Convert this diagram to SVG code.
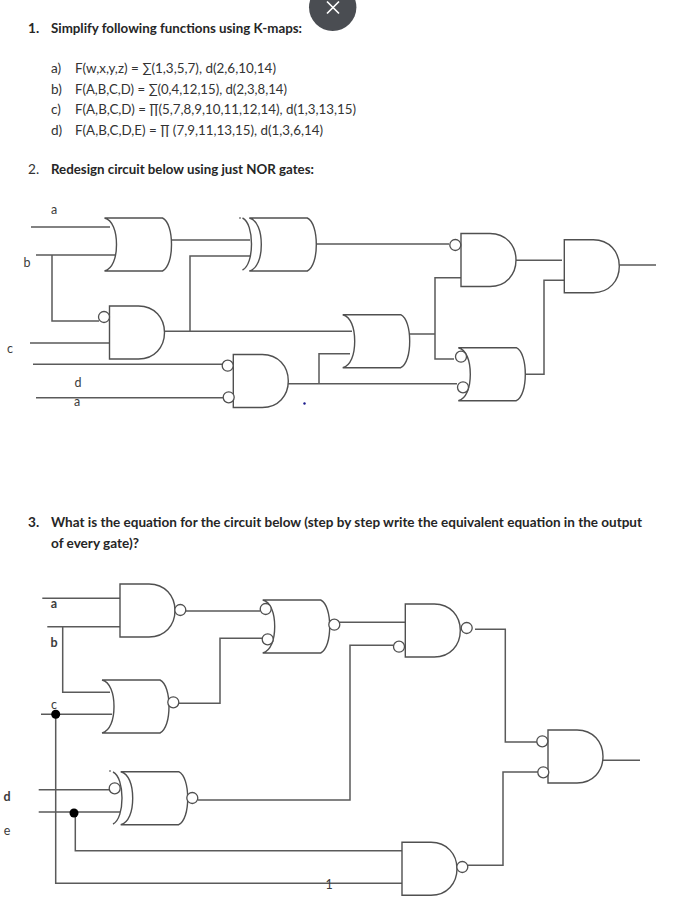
<svg xmlns="http://www.w3.org/2000/svg" width="686" height="923" viewBox="0 0 686 923">
<style>
text{font-family:Lato,"Liberation Sans","DejaVu Sans",sans-serif;font-size:13.6px;fill:#333}
.b{font-weight:700;fill:#262626}
.l{font-size:12.5px;fill:#3c3c3c}
.g{fill:#fff;stroke:#505050;stroke-width:1.4}
.arc{fill:none;stroke:#505050;stroke-width:1.4}
.w{fill:none;stroke:#5a5a5a;stroke-width:1.5}
.n{fill:#fff;stroke:#505050;stroke-width:1.3}
.j{fill:#000}
</style>
<defs>
<path id="and" class="g" d="M0 0H29C45 0 55 12 55 26.5S45 53 29 53H0Z"/>
<path id="or" class="g" d="M0 0H58C64 3 67 14 67 26.5S64 50 58 53H0C8 51 12 40 12 26.5S8 2 0 0Z"/>
<path id="xa" class="arc" d="M0 0C6 3 9 14 9 26S6 49 0 52"/>
</defs>
<rect width="686" height="923" fill="#fff"/>

<g id="close-button">
<circle cx="332.7" cy="7.3" r="23.7" fill="#4a4d52"/>
<path d="M327 1.5L339 13.500M339 1.500L327 13.500" stroke="#fff" stroke-width="1.7" fill="none"/>
</g>

<g id="question-text">
<text class="b" x="28" y="33">1.</text>
<text class="b" x="51" y="33" textLength="251" lengthAdjust="spacingAndGlyphs">Simplify following functions using K-maps:</text>
<text x="51" y="73">a)</text>
<text x="75" y="73" textLength="201" lengthAdjust="spacingAndGlyphs">F(w,x,y,z) = ∑(1,3,5,7), d(2,6,10,14)</text>
<text x="51" y="93.500">b)</text>
<text x="75" y="93.500" textLength="212" lengthAdjust="spacingAndGlyphs">F(A,B,C,D) = ∑(0,4,12,15), d(2,3,8,14)</text>
<text x="51" y="114">c)</text>
<text x="75" y="114" textLength="281" lengthAdjust="spacingAndGlyphs">F(A,B,C,D) = ∏(5,7,8,9,10,11,12,14), d(1,3,13,15)</text>
<text x="51" y="134.500">d)</text>
<text x="75" y="134.500" textLength="248" lengthAdjust="spacingAndGlyphs">F(A,B,C,D,E) = ∏ (7,9,11,13,15), d(1,3,6,14)</text>
<text x="28" y="174">2.</text>
<text class="b" x="51" y="174" textLength="263" lengthAdjust="spacingAndGlyphs">Redesign circuit below using just NOR gates:</text>
<text class="b" x="28" y="527">3.</text>
<text class="b" x="51" y="527" textLength="591" lengthAdjust="spacingAndGlyphs">What is the equation for the circuit below (step by step write the equivalent equation in the output</text>
<text class="b" x="51" y="548" textLength="88" lengthAdjust="spacingAndGlyphs">of every gate)?</text>
</g>

<g id="connectors">
<path class="w" d="M31 227H110M36 255H115M52 255V321H99M30 343H109M171 240H250M164 331.300H352M190 331.300V256H250"/>
<path class="w" d="M316 244H449M33 364.300H222M36 397.700H223M288 383.700H457M319 383.700V353.700H350"/>
<path class="w" d="M410 334H435M454 359H435V277.700H461M516 260.300H562M525 374.300H544V280.300H564M619 265H656"/>
<path class="w" d="M42.300 598.300H120M47.300 626.700H120M62.700 626.700V692.300H110M186 611H260M41 714.300H112M55.700 714.300V883.300H402"/>
<path class="w" d="M179 703.300H220V638.300H262M38.700 789.700H110M38.700 812H120M75.300 813V850.700H402M198 800H350V645.300H393.300"/>
<path class="w" d="M339.300 622.300H405.300M475 629.300H505.300V742H537.300M467.700 865.300H503V772H538M602.700 760.300H640"/>
</g>

<g id="c2-or1"><use href="#or" x="104.500" y="218"/></g>
<g id="c2-and1"><use href="#and" x="109.500" y="306"/><circle class="n" cx="104" cy="317" r="5.500"/></g>
<g id="c2-xor"><use href="#xa" x="242.500" y="218"/><use href="#or" x="249.300" y="218"/><circle class="j" cx="240" cy="218" r=".7"/></g>
<g id="c2-and2"><use href="#and" x="233.300" y="354.500"/><circle class="n" cx="227.700" cy="365.700" r="5.500"/><circle class="n" cx="228.700" cy="397.300" r="5.500"/></g>
<g id="c2-or2"><use href="#or" x="342.700" y="314.700"/></g>
<g id="c2-and3"><use href="#and" x="461" y="233.500"/><circle class="n" cx="455.300" cy="245" r="5.500"/></g>
<g id="c2-or3"><use href="#or" x="458.300" y="347.700"/><circle class="n" cx="461" cy="356.700" r="5.500"/><circle class="n" cx="463" cy="387.300" r="5.500"/></g>
<g id="c2-and4"><use href="#and" x="564.300" y="239.700"/></g>

<g id="c3-nand1"><use href="#and" x="120" y="584"/><circle class="n" cx="180.300" cy="610" r="5.500"/></g>
<g id="c3-nor1"><use href="#or" x="102" y="680"/><circle class="n" cx="173.300" cy="702.300" r="5.500"/></g>
<g id="c3-xnor"><use href="#xa" x="113" y="772"/><use href="#or" x="120.700" y="771.700"/><circle class="n" cx="192.300" cy="798" r="5.500"/><circle class="n" cx="114.700" cy="788.300" r="5.500"/><circle class="j" cx="110" cy="771" r=".7"/></g>
<g id="c3-nor2"><use href="#or" x="262.700" y="600"/><circle class="n" cx="265.700" cy="609" r="5.500"/><circle class="n" cx="267.700" cy="639.300" r="5.500"/><circle class="n" cx="334.300" cy="624.700" r="5.500"/></g>
<g id="c3-nand2"><use href="#and" x="405.300" y="604"/><circle class="n" cx="399" cy="646.700" r="5.500"/><circle class="n" cx="466.700" cy="628" r="5.500"/></g>
<g id="c3-nand3"><use href="#and" x="402" y="842.300"/><circle class="n" cx="462.300" cy="867" r="5.500"/></g>
<g id="c3-and"><use href="#and" x="548" y="730"/><circle class="n" cx="542.300" cy="741.300" r="5.500"/><circle class="n" cx="543.300" cy="772.300" r="5.500"/></g>

<g id="junctions">
<circle class="j" cx="55.700" cy="714.300" r="4.500"/>
<circle class="j" cx="74" cy="813" r="4.500"/>
<circle cx="304.500" cy="403.500" r="1.200" fill="#1a1a8c"/>
</g>

<g id="labels">
<text class="l" x="54" y="214" text-anchor="middle">a</text>
<text class="l" x="27" y="267" text-anchor="middle">b</text>
<text class="l" x="10" y="353" text-anchor="middle">c</text>
<text class="l" x="78" y="387" text-anchor="middle">d</text>
<text class="l" x="77" y="406" text-anchor="middle">a</text>
<text class="l b" x="54" y="608" text-anchor="middle">a</text>
<text class="l b" x="54" y="647" text-anchor="middle">b</text>
<text class="l" x="54" y="709" text-anchor="middle">c</text>
<text class="l b" x="7" y="801" text-anchor="middle">d</text>
<text class="l" x="7" y="835" text-anchor="middle">e</text>
<text class="l" x="329" y="889" text-anchor="middle">1</text>
</g>
</svg>
